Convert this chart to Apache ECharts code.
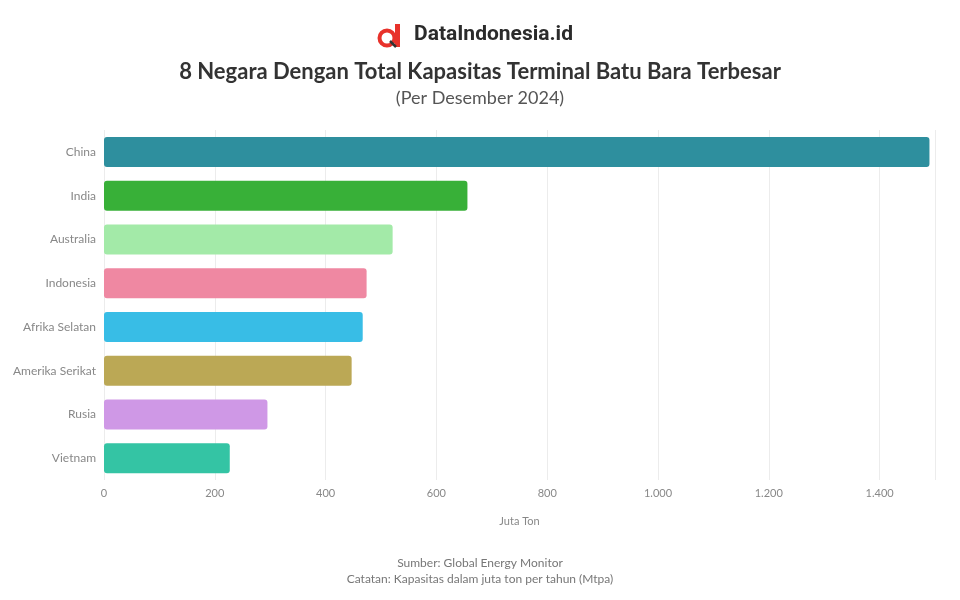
<!DOCTYPE html>
<html>
<head>
<meta charset="utf-8">
<script src="https://cdn.jsdelivr.net/npm/echarts@6/dist/echarts.min.js"></script>
<style>html,body{margin:0;padding:0;background:#fff}#c{width:960px;height:600px}</style>
</head>
<body>
<div id="c"></div>
<script>
const categories = ["China", "India", "Australia", "Indonesia", "Afrika Selatan", "Amerika Serikat", "Rusia", "Vietnam"];
const values = [1490, 656, 521, 474, 467, 447, 295, 227];
const barColors = ["#2e8f9e", "#38b038", "#a3eaa8", "#ef88a2", "#38bde6", "#bba855", "#cf98e6", "#34c4a4"];
const titleText = "8 Negara Dengan Total Kapasitas Terminal Batu Bara Terbesar";
const subtitleText = "(Per Desember 2024)";
const axisNameText = "Juta Ton";
const sourceLines = ["Sumber: Global Energy Monitor", "Catatan: Kapasitas dalam juta ton per tahun (Mtpa)"];

const chart = echarts.init(document.getElementById('c'));
chart.setOption({
  backgroundColor: '#fff',
  animation: false,
  textStyle: { fontFamily: 'Lato' },
  graphic: [
    { type: 'circle', shape: { cx: 387, cy: 38, r: 7.5 }, style: { fill: 'none', stroke: '#e8322b', lineWidth: 4 } },
    { type: 'rect', shape: { x: 395, y: 24, width: 5, height: 23 }, style: { fill: '#e8322b' } },
    { type: 'line', shape: { x1: 390, y1: 41, x2: 396, y2: 47 }, style: { stroke: '#333', lineWidth: 2.5 } },
    { type: 'text', left: 414, top: 24, style: { text: 'DataIndonesia.id', font: 'bold 21px Roboto', fill: '#2b2b2b' } },
    { type: 'text', left: 'center', top: 61, style: { text: titleText, font: 'bold 22px Lato', fill: '#333' } },
    { type: 'text', left: 'center', top: 89, style: { text: subtitleText, font: '18px Lato', fill: '#555' } },
    { type: 'text', left: 'center', top: 557, style: { text: sourceLines[0], font: '12px Lato', fill: '#777' } },
    { type: 'text', left: 'center', top: 573, style: { text: sourceLines[1], font: '12px Lato', fill: '#777' } }
  ],
  grid: { left: 104, right: 25, top: 130, bottom: 120, containLabel: false },
  xAxis: {
    type: 'value', min: 0, max: 1500, interval: 200,
    name: axisNameText, nameLocation: 'middle', nameGap: 36,
    nameTextStyle: { color: '#888', fontSize: 11 },
    axisLine: { show: false }, axisTick: { show: false },
    axisLabel: { color: '#888', fontSize: 11, showMaxLabel: false,
      formatter: v => v.toLocaleString('id-ID') },
    splitLine: { lineStyle: { color: '#ececec' } }
  },
  yAxis: {
    type: 'category', data: categories, inverse: true,
    axisLine: { show: false }, axisTick: { show: false },
    axisLabel: { color: '#888', fontSize: 12, margin: 8 }
  },
  series: [{
    type: 'bar', barWidth: 30,
    data: values.map((v, i) => ({ value: v, itemStyle: { color: barColors[i], borderRadius: 3 } }))
  }]
});
</script>
</body>
</html>
